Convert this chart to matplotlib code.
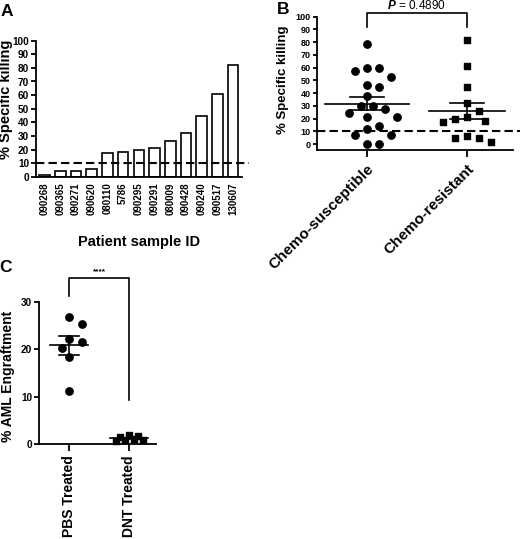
import matplotlib
matplotlib.use("Agg")
import matplotlib.pyplot as plt
import numpy as np

plt.rcParams['font.family'] = ['Liberation Sans', 'DejaVu Sans']
plt.rcParams['font.weight'] = 'bold'
plt.rcParams['axes.labelweight'] = 'bold'
plt.rcParams['mathtext.fontset'] = 'custom'
plt.rcParams['mathtext.it'] = 'Liberation Sans:italic'
plt.rcParams['mathtext.rm'] = 'Liberation Sans'

# Panel A - killing per patient sample
sample_ids = ["090268", "090365", "090271", "090620", "080110", "5786", "090295",
              "090291", "080009", "090428", "090240", "090517", "130607"]
specific_killing = [1.5, 4.5, 4.5, 6, 17.5, 18, 19.5, 21, 26, 32, 44.5, 61, 82]

# Panel B - grouped by chemo response
groups_b = ["Chemo-susceptible", "Chemo-resistant"]
susceptible = [78.3, 60, 60, 57.3, 52.9, 46.6, 45, 37.4, 29.8, 29.8, 27.5, 24,
               21.5, 21, 14.4, 11.5, 7.3, 7.3, 0, 0]
resistant = [81.5, 61, 44.5, 32, 26, 21, 19.5, 18, 17, 6, 4.7, 4.7, 1.3]
p_text = "0.4890"

# Panel C - engraftment
groups_c = ["PBS Treated", "DNT Treated"]
pbs = [26.8, 25.4, 22.2, 21.6, 20.2, 18.3, 11.3]
dnt = [1.8, 1.6, 1.4, 1.0, 0.8, 0.7, 0.9]

threshold = 10
LW = 1.3
DPI = 100

fig = plt.figure(figsize=(5.2, 5.39), dpi=DPI)


def style_axes(ax):
    for s in ["top", "right"]:
        ax.spines[s].set_visible(False)
    for s in ["left", "bottom"]:
        ax.spines[s].set_linewidth(LW)
    ax.tick_params(width=LW, length=3.5, pad=1.5, labelsize=7.2)


def swarm(ax, center, vals, diam_px, step_px):
    # simple beeswarm: spread points sideways so they don't overlap
    vals = np.asarray(vals, dtype=float)
    pts = ax.transData.transform(np.column_stack([np.full(len(vals), center), vals]))
    ys = pts[:, 1]
    unit = ax.transData.transform((1, 0))[0] - ax.transData.transform((0, 0))[0]
    placed = []
    offs = np.zeros(len(vals))
    for i in np.argsort(-vals, kind="stable"):
        k = 0
        found = None
        while found is None:
            cands = [0.0] if k == 0 else [k * step_px, -k * step_px]
            for c in cands:
                if all((c - px) ** 2 + (ys[i] - py) ** 2 >= diam_px ** 2
                       for px, py in placed):
                    found = c
                    break
            k += 1
        placed.append((found, ys[i]))
        offs[i] = found / unit
    return center + offs


def mean_sem(ax, center, vals, half_mean, half_cap):
    vals = np.asarray(vals, dtype=float)
    m = vals.mean()
    sem = vals.std(ddof=1) / np.sqrt(len(vals))
    ax.plot([center - half_mean, center + half_mean], [m, m], color="black", lw=1.2, zorder=4)
    ax.plot([center, center], [m - sem, m + sem], color="black", lw=1.2, zorder=4)
    for y in (m - sem, m + sem):
        ax.plot([center - half_cap, center + half_cap], [y, y], color="black", lw=1.2, zorder=4)


# ---------------- Panel A ----------------
axA = fig.add_axes([36 / 520, 1 - 176.7 / 539, 206 / 520, 136 / 539])
style_axes(axA)
xa = np.arange(len(sample_ids))
axA.bar(xa, specific_killing, width=0.68, color="white", edgecolor="black", linewidth=1.2)
axA.set_xlim(-0.55, 12.57)
axA.set_ylim(0, 100)
axA.set_yticks(range(0, 101, 10))
axA.set_xticks(xa)
axA.set_xticklabels(sample_ids, rotation=90, fontsize=7)
axA.tick_params(axis="x", length=0, pad=4)
axA.plot([-0.55, 13.0], [threshold, threshold], ls=(0, (4, 2)), color="black", lw=1.5, clip_on=False)
axA.set_ylabel("% Specific killing", fontsize=10.5)
axA.yaxis.set_label_coords(-0.112, 0.57)
axA.set_xlabel("Patient sample ID", fontsize=10.5)
axA.xaxis.set_label_coords(0.5, -0.43)
fig.text(7 / 520, 1 - 12 / 539, "A", fontsize=12.5, ha="center", va="center")

# ---------------- Panel B ----------------
axB = fig.add_axes([316.7 / 520, 1 - 150.4 / 539, 196.3 / 520, 133.7 / 539])
style_axes(axB)
axB.set_xlim(-0.5, 1.46)
axB.set_ylim(-5, 100)
axB.spines["left"].set_bounds(-5, 100)
axB.set_yticks(range(0, 101, 10))
axB.tick_params(axis="y", labelsize=6.5, length=3)
axB.set_xticks([0, 1])
axB.set_xticklabels(groups_b, rotation=45, ha="right", va="top", rotation_mode="anchor", fontsize=11)
axB.tick_params(axis="x", length=5, pad=3)
axB.plot([-0.5, 1.53], [threshold, threshold], ls=(0, (4, 2)), color="black", lw=1.5, clip_on=False, zorder=3)
xs = swarm(axB, 0, susceptible, 11, 6)
axB.scatter(xs, susceptible, s=28, marker="o", color="black", zorder=5, clip_on=False)
xr = swarm(axB, 1, resistant, 11, 6)
axB.scatter(xr, resistant, s=22, marker="s", color="black", zorder=5, clip_on=False)
mean_sem(axB, 0, susceptible, 0.42, 0.17)
mean_sem(axB, 1, resistant, 0.38, 0.17)
axB.plot([0, 0, 1, 1], [92, 103.2, 103.2, 92], color="black", lw=1.2, clip_on=False)
axB.text(0.5, 105.8, r"$P$ = " + p_text, ha="center", va="baseline", fontsize=8.5,
         fontweight="normal", clip_on=False)
axB.set_ylabel("% Specific killing", fontsize=9.5)
axB.yaxis.set_label_coords(-0.141, 0.527)
fig.text(283 / 520, 1 - 10 / 539, "B", fontsize=12.5, ha="center", va="center")

# ---------------- Panel C ----------------
axC = fig.add_axes([39 / 520, 1 - 444 / 539, 117 / 520, 142 / 539])
style_axes(axC)
axC.set_xlim(-0.5, 1.45)
axC.set_ylim(0, 30)
axC.set_yticks([0, 10, 20, 30])
axC.set_xticks([0, 1])
axC.set_xticklabels(groups_c, rotation=90, fontsize=10)
axC.tick_params(axis="x", length=5, pad=3)
xp = swarm(axC, 0, pbs, 10, 6.7)
axC.scatter(xp, pbs, s=28, marker="o", color="black", zorder=5, clip_on=False)
xd = swarm(axC, 1, dnt, 5, 4.5)
axC.scatter(xd, dnt, s=22, marker="s", color="black", zorder=5, clip_on=False)
mean_sem(axC, 0, pbs, 0.32, 0.17)
mean_sem(axC, 1, dnt, 0.32, 0.17)
axC.plot([0, 0, 1, 1], [31.3, 35, 35, 9.3], color="black", lw=1.2, clip_on=False)
axC.text(0.5, 35.6, "****", ha="center", va="bottom", fontsize=6, clip_on=False)
axC.set_ylabel("% AML Engraftment", fontsize=10)
axC.yaxis.set_label_coords(-0.205, 0.475)
fig.text(5 / 520, 1 - 267 / 539, "C", fontsize=12.5, ha="center", va="center")

fig.savefig("out.png", dpi=DPI)
